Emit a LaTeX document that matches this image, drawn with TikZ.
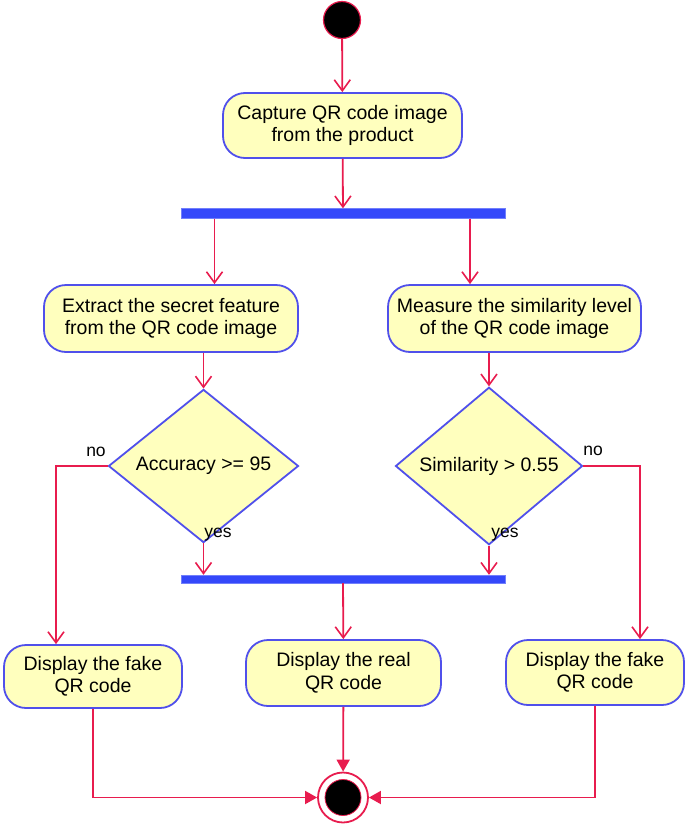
\documentclass[tikz,border=0pt]{standalone}
\usepackage{fontspec}
\setmainfont{Liberation Sans}
\usetikzlibrary{arrows.meta,shapes.geometric}
\definecolor{fillY}{RGB}{255,255,190}
\definecolor{edgeB}{RGB}{80,80,235}
\definecolor{lineR}{RGB}{232,28,78}
\definecolor{barB}{RGB}{52,72,250}
\begin{document}
\begin{tikzpicture}[x=1pt,y=-1pt,
  txt/.style={font=\fontsize{19.5}{22.5}\selectfont},
  act/.style={txt, draw=edgeB, fill=fillY, line width=1.8pt, rounded corners=22pt,
    align=center, inner sep=0pt},
  dec/.style={txt, draw=edgeB, fill=fillY, line width=1.8pt, shape=diamond,
    inner sep=0pt},
  bar/.style={fill=barB, draw=barB!70!white, line width=0.4pt, inner sep=0pt},
  flow/.style={draw=lineR, line width=1.8pt, -{Straight Barb[length=11pt,width=16pt,line width=1.6pt]}},
  flowend/.style={draw=lineR, line width=1.8pt, -{Triangle[length=12pt,width=13pt,fill=lineR]}},
  lbl/.style={font=\fontsize{17.5}{20}\selectfont, inner sep=0pt}
]
\useasboundingbox (0,0) rectangle (685,825);

% start / end
\node[circle, fill=black, draw=lineR, line width=1.2pt, minimum size=37pt, inner sep=0pt] (start) at (342,20) {};
\node[circle, draw=lineR, line width=1.8pt, fill=white, minimum size=50pt, inner sep=0pt] (stop) at (343,797.5) {};
\node[circle, fill=black, draw=lineR, line width=0.8pt, minimum size=36pt, inner sep=0pt] (stopin) at (343,797.5) {};

% activities
\node[act, minimum width=239pt, minimum height=65pt] (cap) at (342.5,125.5) {Capture QR code image\\from the product};
\node[bar, minimum width=324pt, minimum height=10pt] (fork) at (343,213.5) {};
\node[act, minimum width=254pt, minimum height=67pt] (ext) at (171,318.5) {Extract the secret feature\\from the QR code image};
\node[act, minimum width=253pt, minimum height=67pt] (mea) at (514.5,318.5) {Measure the similarity level\\of the QR code image};
\node[dec, minimum width=190pt, minimum height=97pt] (dacc) at (203.5,466) {Accuracy >= 95};
\node[dec, minimum width=187pt, minimum height=97pt] (dsim) at (489,466) {Similarity > 0.55};
\node[bar, minimum width=324pt, minimum height=8pt] (join) at (343,579) {};
\node[act, minimum width=178pt, minimum height=63pt] (fakeL) at (93,676.5) {Display the fake\\QR code};
\node[act, minimum width=195pt, minimum height=66pt] (real) at (343.5,673) {Display the real\\QR code};
\node[act, minimum width=178pt, minimum height=65pt] (fakeR) at (595,672.5) {Display the fake\\QR code};

% helper coordinates
\coordinate (fl) at (214.5,218.5);
\coordinate (fr) at (470,218.5);
\coordinate (nl) at (56,466);
\coordinate (nr) at (640,466);

% connectors
\draw[flow] (start) -- (cap);
\draw[flow] (cap) -- (fork);
\draw[flow] (fl) -- (fl |- ext.north);
\draw[flow] (fr) -- (fr |- mea.north);
\draw[flow] (dacc.north |- ext.south) -- (dacc.north);
\draw[flow] (dsim.north |- mea.south) -- (dsim.north);
\draw[flow] (dacc.west) -- (nl) -- (nl |- fakeL.north);
\draw[flow] (dsim.east) -- (nr) -- (nr |- fakeR.north);
\draw[flow] (dacc.south) -- (dacc.south |- join.north);
\draw[flow] (dsim.south) -- (dsim.south |- join.north);
\draw[flow] (join) -- (real);
\draw[flowend] (real) -- (stop);
\draw[flowend] (fakeL.south) |- (stop.west);
\draw[flowend] (fakeR.south) |- (stop.east);

% labels
\node[lbl] at (96,452) {no};
\node[lbl] at (593,451) {no};
\node[lbl] at (218,535) {yes};
\node[lbl] at (505,535) {yes};
\end{tikzpicture}
\end{document}
